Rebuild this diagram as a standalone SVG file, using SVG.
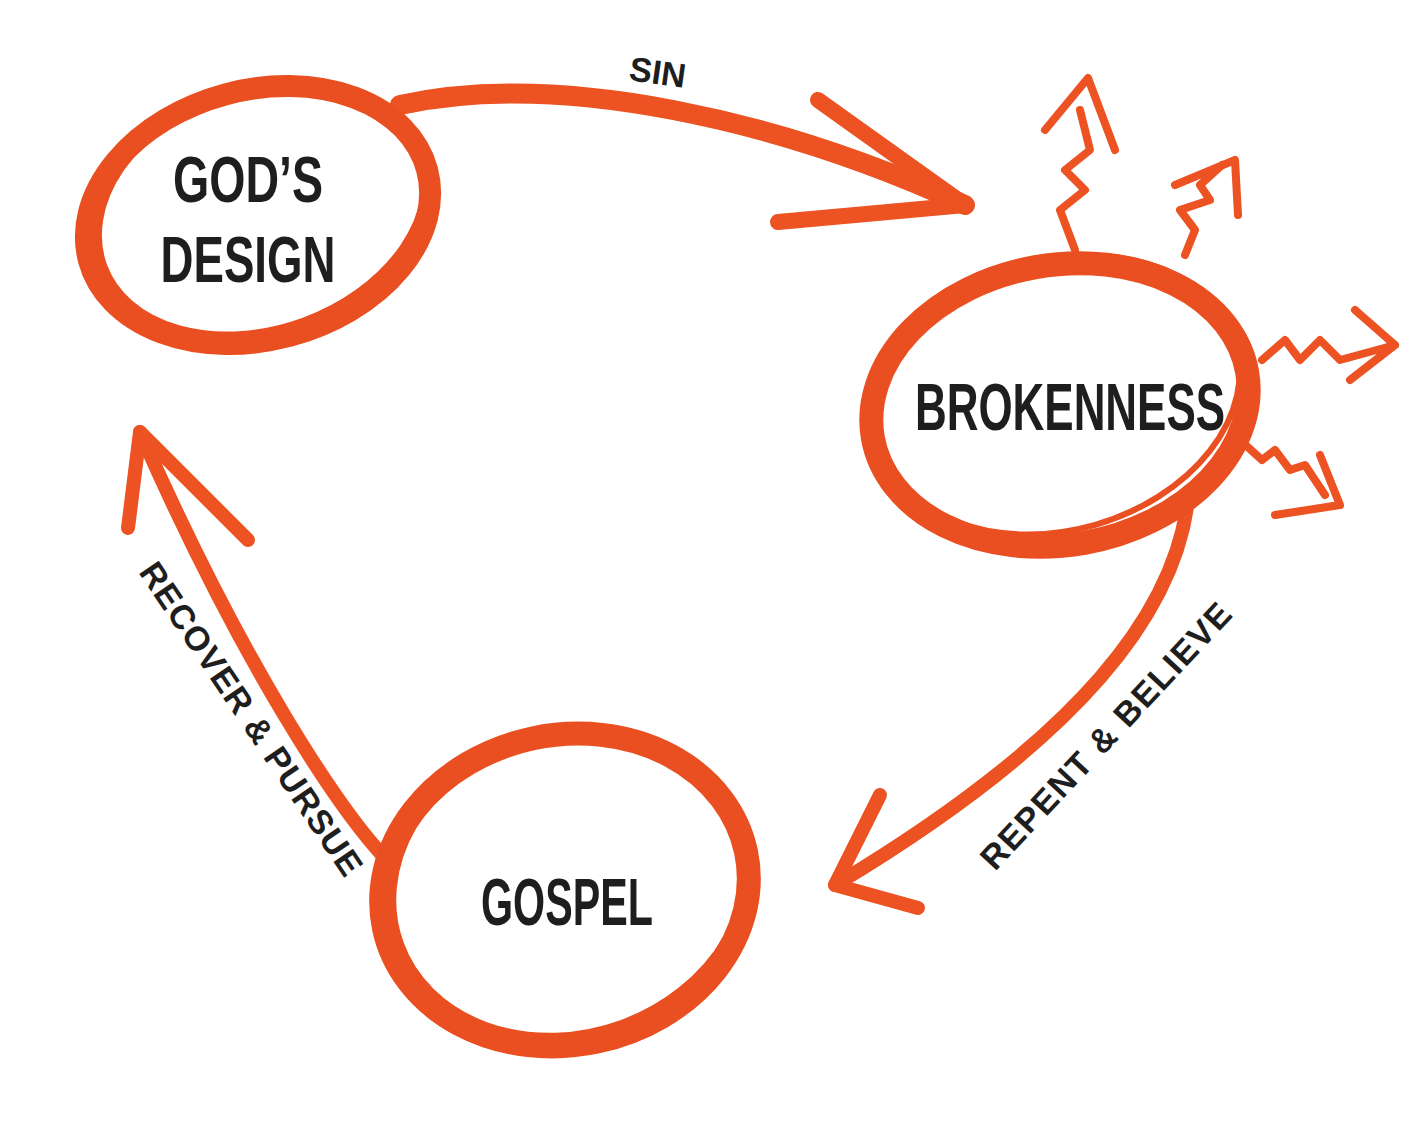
<svg xmlns="http://www.w3.org/2000/svg" width="1413" height="1126" viewBox="0 0 1413 1126">
<style>
.ring{fill:none;stroke:#e94f20;stroke-linecap:round}
.arr{fill:none;stroke:#ec5222;stroke-linecap:round;stroke-linejoin:round}
.node{font-family:"Liberation Sans",sans-serif;font-weight:bold;fill:#1e1e1e}
.lbl{font-family:"Liberation Sans",sans-serif;font-weight:bold;fill:#1e1e1e;font-size:34px}
</style>
<rect width="1413" height="1126" fill="#fff"/>
<g id="connectors">
<path class="arr" stroke-width="20" d="M400,105 C560,70 780,120 965,205"/>
<path class="arr" stroke-width="16" d="M818,100 L965,205 L778,222"/>
<path class="arr" stroke-width="14" d="M1188,500 C1175,610 1085,735 835,885"/>
<path class="arr" stroke-width="14" d="M880,795 L835,885 L918,908"/>
<path class="arr" stroke-width="14" d="M385,858 C340,810 245,670 140,432"/>
<path class="arr" stroke-width="14" d="M128,528 L140,432 L248,540"/>
<path class="arr" stroke-width="8" d="M1075,250 L1060,210 L1085,190 L1065,170 L1090,150 L1080,110 M1045,130 L1088,78 L1115,150"/>
<path class="arr" stroke-width="8" d="M1185,255 L1195,230 L1180,210 L1210,200 L1200,185 L1222,165 M1175,185 L1235,160 L1238,215"/>
<path class="arr" stroke-width="8" d="M1262,360 L1285,340 L1300,360 L1320,340 L1340,360 L1395,345 M1355,310 L1395,345 L1350,380"/>
<path class="arr" stroke-width="8" d="M1240,440 L1262,460 L1275,450 L1290,470 L1305,465 L1325,495 M1275,515 L1340,505 L1320,455"/>
<text class="lbl" transform="translate(628,80) rotate(8)">SIN</text>
<text class="lbl" transform="translate(995,872) rotate(-47)" textLength="350">REPENT &amp; BELIEVE</text>
<text class="lbl" transform="translate(138,572) rotate(56)" textLength="370">RECOVER &amp; PURSUE</text>
</g>
<g id="gods-design">
<ellipse class="ring" stroke-width="22" cx="258" cy="215" rx="175" ry="125" transform="rotate(-15 258 215)"/>
<ellipse class="ring" stroke-width="6" cx="262" cy="208" rx="168" ry="120" transform="rotate(-20 262 208)"/>
<text class="node" font-size="64" x="248" y="202" text-anchor="middle" textLength="150" lengthAdjust="spacingAndGlyphs">GOD’S</text>
<text class="node" font-size="64" x="248" y="282" text-anchor="middle" textLength="175" lengthAdjust="spacingAndGlyphs">DESIGN</text>
</g>
<g id="brokenness">
<ellipse class="ring" stroke-width="24" cx="1060" cy="405" rx="190" ry="140" transform="rotate(-10 1060 405)"/>
<ellipse class="ring" stroke-width="6" cx="1058" cy="395" rx="185" ry="135" transform="rotate(-16 1058 395)"/>
<text class="node" font-size="66" x="1070" y="430" text-anchor="middle" textLength="310" lengthAdjust="spacingAndGlyphs">BROKENNESS</text>
</g>
<g id="gospel">
<ellipse class="ring" stroke-width="24" cx="565" cy="890" rx="185" ry="155" transform="rotate(-12 565 890)"/>
<ellipse class="ring" stroke-width="6" cx="570" cy="882" rx="180" ry="150" transform="rotate(-20 570 882)"/>
<text class="node" font-size="66" x="567" y="925" text-anchor="middle" textLength="172" lengthAdjust="spacingAndGlyphs">GOSPEL</text>
</g>
</svg>
